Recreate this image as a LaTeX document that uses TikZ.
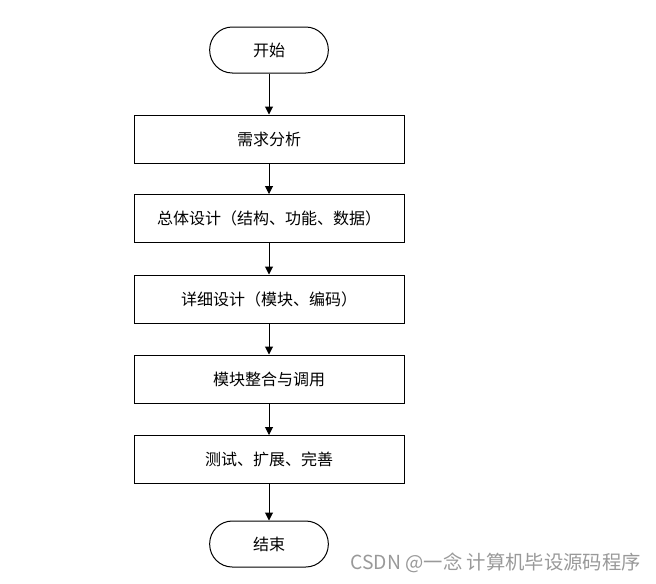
\documentclass[tikz,border=0pt]{standalone}
\usepackage{fontspec}
\setmainfont{Liberation Sans}
\newfontfamily\cjk{Noto Sans CJK SC}
\usetikzlibrary{arrows.meta}
\begin{document}
\begin{tikzpicture}[x=0.75pt,y=-0.75pt,
  every node/.style={font=\cjk\fontsize{12pt}{14pt}\selectfont},
  procbox/.style={draw,line width=0.75pt,inner sep=0pt,minimum width=202.5pt,minimum height=36pt},
  termbox/.style={draw,line width=0.75pt,inner sep=0pt,minimum width=89pt,minimum height=34.5pt,rounded corners=17pt},
  flow/.style={line width=0.75pt,-{Triangle[length=6pt,width=6pt]}}]
\useasboundingbox (0,0) rectangle (656,583);
\node[termbox] (s) at (269,50) {开始};
\node[procbox] (b1) at (269,139) {需求分析};
\node[procbox] (b2) at (269,218.5) {总体设计（结构、功能、数据）};
\node[procbox] (b3) at (269,299) {详细设计（模块、编码）};
\node[procbox] (b4) at (269,379) {模块整合与调用};
\node[procbox] (b5) at (269,459.5) {测试、扩展、完善};
\node[termbox] (e) at (269,544) {结束};
\draw[flow] (s) -- (b1);
\draw[flow] (b1) -- (b2);
\draw[flow] (b2) -- (b3);
\draw[flow] (b3) -- (b4);
\draw[flow] (b4) -- (b5);
\draw[flow] (b5) -- (e);
\node[anchor=east,text=black!40,inner sep=0pt,font=\cjk\fontsize{14.5pt}{16pt}\selectfont] (wm) at (641,563) {CSDN @一念 计算机毕设源码程序};
\end{tikzpicture}
\end{document}
